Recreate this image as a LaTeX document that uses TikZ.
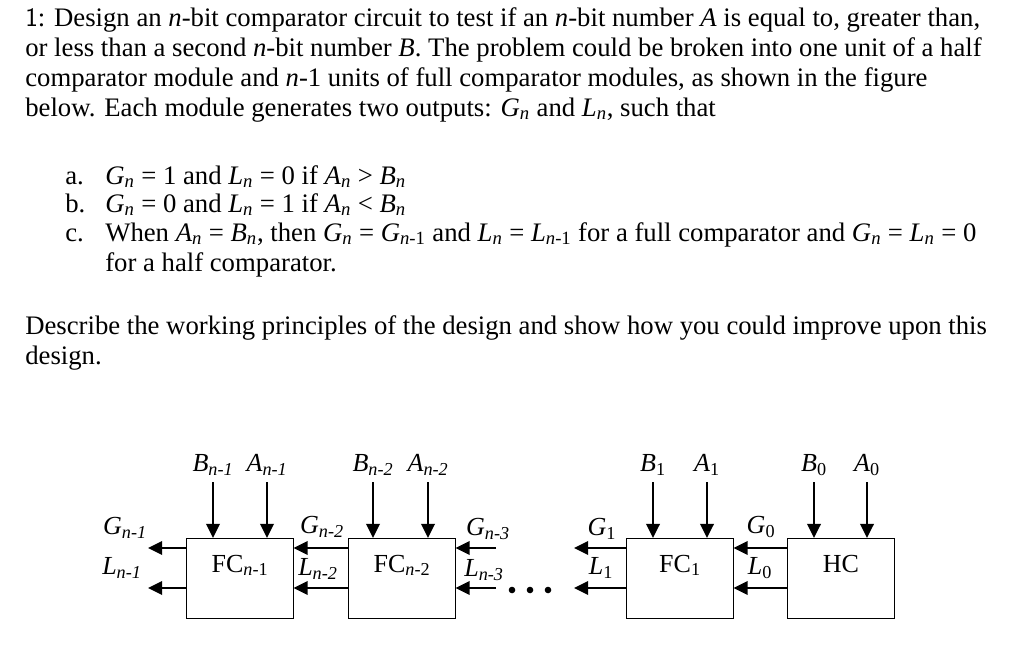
\documentclass[tikz,border=0pt]{standalone}
\usepackage{fontspec}
\setmainfont{Liberation Serif}
\usetikzlibrary{arrows.meta,positioning}
\tikzset{%
    module/.style={draw,thin,minimum width=107\px,minimum height=80\px,inner sep=0pt,outer sep=0pt},
    sig/.style={-{Triangle[length=10pt,width=9.5pt]},line width=1.7pt},
    txt/.style={anchor=base west,inner sep=0pt,font=\fontsize{19}{22}\selectfont},
    lbl/.style={inner sep=0pt,font=\fontsize{18.5}{21}\selectfont},
}
\newlength{\px}\setlength{\px}{0.025cm}
\newcommand{\sub}[2]{\textit{#1}\textsubscript{#2}}
\begin{document}
\begin{tikzpicture}[x=0.025cm,y=-0.025cm]
        \useasboundingbox (0,0) rectangle (1024,658);
        % problem text
        \node[txt] (l1) at (25,26) {{\sffamily 1}: Design an \textit{n}-bit comparator circuit to test if an \textit{n}-bit number \textit{A} is equal to, greater than,};
        \node[txt] (l2) at (25,56) {or less than a second \textit{n}-bit number \textit{B}. The problem could be broken into one unit of a half};
        \node[txt] (l3) at (25,86) {comparator module and \textit{n}-1 units of full comparator modules, as shown in the figure};
        \node[txt] (l4) at (25,116) {below. Each module generates two outputs: \sub{G}{\textit{n}} and \sub{L}{\textit{n}}, such that};
        \node[txt] (a) at (65,184) {a.};
        \node[txt] (at) at (105,184) {\sub{G}{\textit{n}} = 1 and \sub{L}{\textit{n}} = 0 if \sub{A}{\textit{n}} > \sub{B}{\textit{n}}};
        \node[txt] (b) at (65,212) {b.};
        \node[txt] (bt) at (105,212) {\sub{G}{\textit{n}} = 0 and \sub{L}{\textit{n}} = 1 if \sub{A}{\textit{n}} < \sub{B}{\textit{n}}};
        \node[txt] (c) at (65,241) {c.};
        \node[txt] (ct) at (105,241) {When \sub{A}{\textit{n}} = \sub{B}{\textit{n}}, then \sub{G}{\textit{n}} = \sub{G}{\textit{n}-1} and \sub{L}{\textit{n}} = \sub{L}{\textit{n}-1} for a full comparator and \sub{G}{\textit{n}} = \sub{L}{\textit{n}} = 0};
        \node[txt] (ct2) at (105,271) {for a half comparator.};
        \node[txt] (d1) at (25,334) {Describe the working principles of the design and show how you could improve upon this};
        \node[txt] (d2) at (25,364) {design.};

        % modules
        \node[module] (fc1) at (240,578) {};
        \node[module] (fc2) at (402,578) {};
        \node[module] (fc3) at (680,578) {};
        \node[module] (hc) at (841,578) {};
        \node[lbl,anchor=base] at (240,572) {FC\textsubscript{\textit{n}-1}};
        \node[lbl,anchor=base] at (402,572) {FC\textsubscript{\textit{n}-2}};
        \node[lbl,anchor=base] at (680,572) {FC\textsubscript{1}};
        \node[lbl,anchor=base] at (841,572) {HC};

        % inputs from above
        \foreach \m/\dx/\t in {fc1/-27/{\sub{B}{\textit{n-1}}},fc1/27/{\sub{A}{\textit{n-1}}},fc2/-29/{\sub{B}{\textit{n-2}}},fc2/26/{\sub{A}{\textit{n-2}}},fc3/-27/{\sub{B}{1}},fc3/27/{\sub{A}{1}},hc/-27/{\sub{B}{0}},hc/26/{\sub{A}{0}}}{
            \coordinate (in) at ([xshift=\dx\px]\m.north);
            \draw[sig] ([yshift=56\px]in) -- (in);
            \node[lbl] at ([yshift=73\px]in) {\t};
        }

        % carry chain
        \coordinate (g1) at (148,548); \coordinate (l1o) at (148,588);
        \coordinate (g3) at (496,548); \coordinate (l3o) at (496,588);
        \coordinate (g5) at (574,548); \coordinate (l5o) at (574,588);
        \draw[sig] (fc1.west |- g1) -- (g1);
        \draw[sig] (fc1.west |- l1o) -- (l1o);
        \draw[sig] (fc2.west |- g1) -- (fc1.east |- g1);
        \draw[sig] (fc2.west |- l1o) -- (fc1.east |- l1o);
        \draw[sig] (g3) -- (fc2.east |- g3);
        \draw[sig] (l3o) -- (fc2.east |- l3o);
        \draw[sig] (fc3.west |- g5) -- (g5);
        \draw[sig] (fc3.west |- l5o) -- (l5o);
        \draw[sig] (hc.west |- g5) -- (fc3.east |- g5);
        \draw[sig] (hc.west |- l5o) -- (fc3.east |- l5o);
        \foreach \x in {512,530,548} \fill (\x,590) circle (3.3);

        \node[lbl] at (125,528) {\sub{G}{\textit{n-1}}};
        \node[lbl] at (122,568) {\sub{L}{\textit{n-1}}};
        \node[lbl] at (322,527) {\sub{G}{\textit{n-2}}};
        \node[lbl] at (318,569) {\sub{L}{\textit{n-2}}};
        \node[lbl] at (488,529) {\sub{G}{\textit{n-3}}};
        \node[lbl] at (484,570) {\sub{L}{\textit{n-3}}};
        \node[lbl] at (602,529) {\sub{G}{1}};
        \node[lbl] at (601,568) {\sub{L}{1}};
        \node[lbl] at (761,527) {\sub{G}{0}};
        \node[lbl] at (760,568) {\sub{L}{0}};
    \end{tikzpicture}
\end{document}
